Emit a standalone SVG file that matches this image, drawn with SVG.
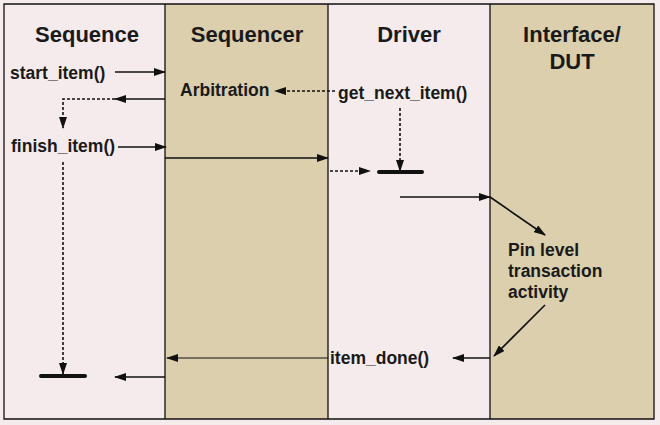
<svg xmlns="http://www.w3.org/2000/svg" width="660" height="425" viewBox="0 0 660 425">
<style>
.p{fill:#f5ebec}.t{fill:#dccfae}
.b{stroke:#111;stroke-width:1.3;fill:none}
text{font-family:"Liberation Sans",Arial,sans-serif;font-weight:bold;fill:#1a1a1a}
.h{font-size:22px;text-anchor:middle}.l{font-size:17.5px}
.a{stroke:#111;stroke-width:1.6;fill:none;marker-end:url(#ah)}
.d{stroke:#111;stroke-width:1.6;fill:none;stroke-dasharray:3,2;marker-end:url(#ah)}
.bar{stroke:#111;stroke-width:4;stroke-linecap:round}
</style>
<defs><marker id="ah" markerWidth="12" markerHeight="8" refX="11" refY="4" orient="auto" markerUnits="userSpaceOnUse"><path d="M0,0L12,4L0,8z" fill="#111"/></marker></defs>
<rect width="660" height="425" fill="#f5ebec"/>
<g id="lanes">
<rect class="p" x="4" y="4" width="161" height="415"/>
<rect class="t" x="165" y="4" width="163" height="415"/>
<rect class="p" x="328" y="4" width="162" height="415"/>
<rect class="t" x="490" y="4" width="164" height="415"/>
<path class="b" d="M4,4H654V419H4z M165,4V419 M328,4V419 M490,4V419"/>
</g>
<g id="sequence"><text class="h" x="87" y="42">Sequence</text><text class="l" x="10" y="79">start_item()</text><text class="l" x="11" y="152">finish_item()</text><line class="bar" x1="41" y1="376" x2="85" y2="376"/></g>
<g id="sequencer"><text class="h" x="247" y="42">Sequencer</text><text class="l" x="180" y="96">Arbitration</text></g>
<g id="driver"><text class="h" x="409" y="42">Driver</text><text class="l" x="338" y="99">get_next_item()</text><text class="l" x="330" y="364">item_done()</text><line class="bar" x1="379" y1="172" x2="422" y2="172"/></g>
<g id="dut"><text class="h" x="572" y="42">Interface/</text><text class="h" x="572" y="69">DUT</text><text class="l" x="508" y="256">Pin level</text><text class="l" x="508" y="277">transaction</text><text class="l" x="508" y="298">activity</text></g>
<g id="connectors">
<line class="a" x1="115" y1="72" x2="165" y2="72"/>
<line class="d" x1="335" y1="91" x2="275" y2="91"/>
<line class="a" x1="165" y1="99" x2="115" y2="99"/>
<polyline class="d" points="115,99 63,99 63,128"/>
<line class="a" x1="118" y1="147" x2="166" y2="147"/>
<line class="a" x1="165" y1="158" x2="328" y2="158"/>
<line class="d" x1="330" y1="171" x2="370" y2="171"/>
<line class="d" x1="400" y1="108" x2="400" y2="171"/>
<line class="a" x1="400" y1="197" x2="490" y2="197"/>
<line class="a" x1="490" y1="197" x2="545" y2="235"/>
<line class="a" x1="545" y1="305" x2="494" y2="356"/>
<line class="a" x1="490" y1="358" x2="453" y2="358"/>
<line class="a" style="stroke-width:1" x1="328" y1="358" x2="167" y2="358"/>
<line class="d" x1="63" y1="162" x2="63" y2="374"/>
<line class="a" x1="165" y1="377" x2="115" y2="377"/>
</g>
</svg>
